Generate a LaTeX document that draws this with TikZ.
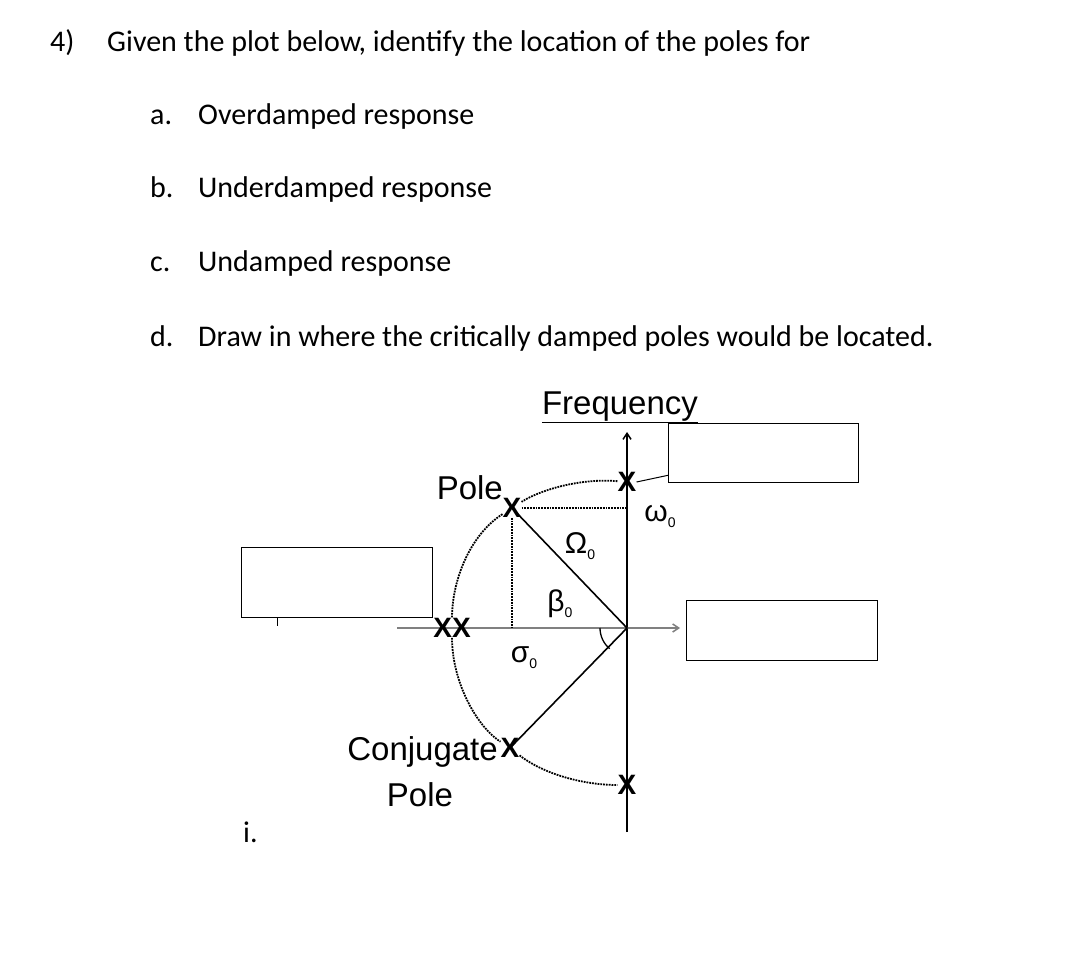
\documentclass[tikz,border=0pt]{standalone}
\usepackage{fontspec}
\setmainfont{Carlito}
\newfontfamily\arial{Liberation Sans}
\usetikzlibrary{arrows.meta}
\newcommand{\zsub}{\raisebox{-6pt}{\fontsize{14}{14}\selectfont 0}}
\begin{document}
\begin{tikzpicture}[x=1pt,y=-1pt,
  q/.style={anchor=base west,font=\fontsize{30}{36}\selectfont,inner sep=0},
  lab/.style={font=\arial\fontsize{33}{38}\selectfont,inner sep=0},
  sub/.style={font=\arial\fontsize{30}{34}\selectfont,inner sep=0},
  ansbox/.style={draw,line width=1.3pt},
  pole/.style={font=\arial\bfseries\fontsize{28}{28}\selectfont,inner sep=0},
  dots/.style={densely dotted,line width=1.8pt},
  ax/.style={line width=1.5pt}]
\useasboundingbox (0,0) rectangle (1084,968);
\node[q] (n4) at (50,52) {4)};
\node[q] (t0) at (107,52) {Given the plot below, identify the location of the poles for};
\node[q] (la) at (150,125) {a.};
\node[q] (ta) at (198,125) {Overdamped response};
\node[q] (lb) at (150,198) {b.};
\node[q] (tb) at (198,198) {Underdamped response};
\node[q] (lc) at (150,272) {c.};
\node[q] (tc) at (198,272) {Undamped response};
\node[q] (ld) at (150,346) {d.};
\node[q] (td) at (198,346) {Draw in where the critically damped poles would be located.};
\node[q] (li) at (243,842) {i.};
% axes
\coordinate (O) at (627,628);
\coordinate (vt) at (627,432);
\coordinate (vb) at (627,832);
\coordinate (hl) at (397,628);
\coordinate (hr) at (680,628);
\draw[ax,-{Straight Barb[length=6pt,width=8pt]}] (vb) -- (vt);
\draw[line width=1.5pt,gray,-{Straight Barb[length=6pt,width=8pt]}] (hl) -- (hr);
% poles
\node[pole] (pt) at (627,482) {X};
\node[pole] (pb) at (627,785) {X};
\node[pole] (p1) at (512,508) {X};
\node[pole] (p2) at (510,748) {X};
\node[pole] (pd) at (452,628) {XX};
\coordinate (fv) at (512,628);
\coordinate (fh) at (627,508);
\draw[dots] (pt) .. controls (580,478) and (540,490) .. (p1);
\draw[dots] (p1) .. controls (470,535) and (452,580) .. (pd);
\draw[dots] (pd) .. controls (452,680) and (475,725) .. (p2);
\draw[dots] (p2) .. controls (545,775) and (585,785) .. (pb);
\draw[dots] (p1) -- (fh);
\draw[dots] (p1) -- (fv);
\draw[line width=1.6pt] (p1.center) -- (O) -- (p2.center);
\draw[line width=1.3pt] (600,628) arc (180:130:27);
% labels
\node[lab,anchor=south] (fq) at (620,422) {Frequency};
\draw[line width=1pt] (fq.south west) -- (fq.south east);
\node[lab,anchor=south east] (pl) at (503,500) {Pole};
\node[lab,anchor=east] (cj) at (498,752) {Conjugate};
\node[lab] (cp) at (420,795) {Pole};
\node[sub] (w0) at (660,516) {ω\zsub};
\node[sub] (O0) at (580,546) {Ω\zsub};
\node[sub] (b0) at (560,604) {β\zsub};
\node[sub] (s0) at (524,658) {σ\zsub};
% boxes
\node[ansbox,minimum width=190,minimum height=59,anchor=north west] (bt) at (668,423) {};
\node[ansbox,minimum width=191,minimum height=70,anchor=north west] (bl) at (241,547) {};
\node[ansbox,minimum width=191,minimum height=60,anchor=north west] (br) at (686,600) {};
\draw[line width=1pt] (bt.south west) ++(0,-8) -- (pt.east);
\draw[line width=1pt] (bl.south) ++(-60,0) -- ++(0,8);
\end{tikzpicture}
\end{document}
